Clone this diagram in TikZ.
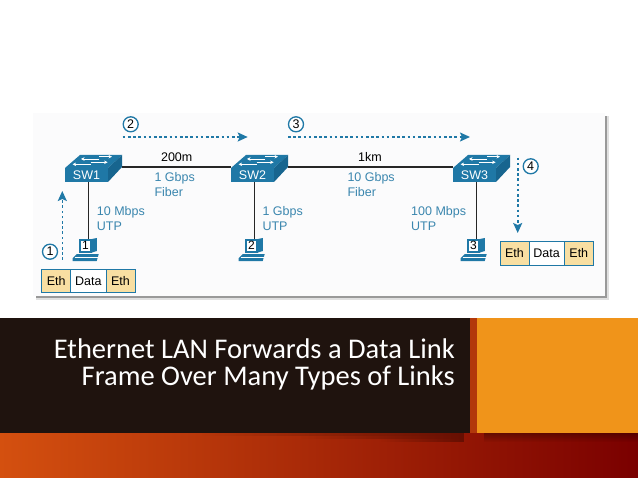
\documentclass[tikz,border=0pt]{standalone}
\usepackage{fontspec}
\setmainfont{Liberation Sans}
\newfontfamily\titlefont{Carlito}
\usetikzlibrary{positioning,arrows.meta,fadings}

\definecolor{netblue}{HTML}{1F78A6}
\definecolor{netdark}{HTML}{17658F}
\definecolor{labelblue}{HTML}{3A86AE}
\definecolor{ethtan}{HTML}{F8DFA2}
\definecolor{paneltint}{HTML}{FBFBFC}
\definecolor{titledark}{HTML}{1F130E}
\definecolor{titleorange}{HTML}{F0941A}
\definecolor{titlered}{HTML}{B2380B}
\definecolor{bandleft}{HTML}{D4500F}
\definecolor{bandmid}{HTML}{B5300A}
\definecolor{bandright}{HTML}{7A0000}

\tikzset{
	switchbox/.style={fill=netblue,text=white,minimum width=43pt,minimum height=14pt,inner sep=0pt,outer sep=0pt,font=\fontsize{12.5}{14}\selectfont},
	pcbox/.style={fill=white,draw=netblue,line width=1.6pt,minimum width=11pt,minimum height=12pt,inner sep=0pt,font=\fontsize{12}{12}\selectfont},
	ethcell/.style={draw=netblue,line width=1pt,fill=ethtan,minimum width=29pt,minimum height=23.5pt,inner sep=0pt,outer sep=0pt,font=\fontsize{12.5}{14}\selectfont},
	datacell/.style={ethcell,fill=white,minimum width=35.3pt},
	link/.style={line width=1.4pt,black!85},
	move/.style={netblue,line width=1.6pt,dash pattern=on 2.6pt off 2.6pt,-{Stealth[length=10pt,width=9pt,inset=2pt]}},
	stepmark/.style={circle,draw=netblue,line width=1.3pt,fill=white,minimum size=15pt,inner sep=0pt,font=\fontsize{12.5}{14}\selectfont},
	speed/.style={anchor=west,align=left,inner sep=0pt,text=labelblue,font=\fontsize{12.5}{15}\selectfont},
	dist/.style={inner sep=0pt,font=\fontsize{12.5}{14}\selectfont},
	swarrow/.style={white,line width=.7pt,-{Stealth[length=3.5pt,width=3.5pt]}},
	softedge/.style={black,opacity=.3},
}

% top and side of a switch, on its front node
\newcommand{\switchparts}[1]{
	\fill[netblue] (#1.north west) -- ++(15,-13) -- ++(42,0) -- ++(-14,13) -- cycle;
	\fill[netdark] (#1.north east) -- ++(14,-13) -- ++(0,12) -- (#1.south east) -- cycle;
	\draw[swarrow] ([shift={(34,-9)}]#1.north west) -- ++(-18,0);
	\draw[swarrow] ([shift={(34,-11.3)}]#1.north west) -- ++(13,0);
	\draw[swarrow] ([shift={(25.6,-3.7)}]#1.north west) -- ++(-18,0);
	\draw[swarrow] ([shift={(25.6,-5.7)}]#1.north west) -- ++(17,0);
	\coordinate (#1r) at ([shift={(14,-1)}]#1.north east);
	\coordinate (#1l) at ([shift={(0,-1)}]#1.north west);
}
% monitor side and keyboard, on the screen node
\newcommand{\pcparts}[1]{
	\fill[netblue] (#1.north east) -- ++(5,-1) -- ++(0,13) -- (#1.south east) -- cycle;
	\fill[netblue] ([shift={(-2.5,1.5)}]#1.south west) -- ++(22,0) -- ++(-2,7) -- ++(-24,0) -- ++(0,-3) -- cycle;
	\draw[white,line width=.6pt] ([shift={(-4.5,5)}]#1.south west) -- ++(23,0);
}

\begin{document}
\begin{tikzpicture}[x=1pt,y=-1pt]
	\useasboundingbox (0,0) rectangle (638,478);
	\fill[white] (0,0) rectangle (638,478);

	% panel
	\fill[black!12] (36,116) rectangle (609,300);
	\fill[black!40] (36,116) rectangle (607,298);
	\fill[paneltint] (33,113) rectangle (605,296);

	% title area
	\shade[left color=bandleft,middle color=bandmid,right color=bandright] (0,433) rectangle (638,478);
	\fill[softedge,path fading=west] (200,433) rectangle (464,436);
	\fill[softedge,path fading=west] (300,436) rectangle (464,439);
	\fill[softedge,path fading=west] (380,439) rectangle (464,442);
	\fill[softedge,path fading=south] (484,433) rectangle (638,442);
	\fill[titlered] (470,318) rectangle (477,433);
	\fill[titleorange] (477,318) rectangle (638,433);
	\node[fill=titledark,minimum width=470pt,minimum height=115pt,inner sep=0pt,anchor=north west] (titlebox) at (0,318) {};
	\node[anchor=north east,inner sep=0pt,align=right,text=white,font=\titlefont\fontsize{28.5}{27}\selectfont] (title) at (455,339) {Ethernet LAN Forwards a Data Link\\Frame Over Many Types of Links};

	% switches
	\node[switchbox] (sw1) at (86.5,175) {SW1};
	\node[switchbox,right=123pt of sw1] (sw2) {SW2};
	\node[switchbox,right=179pt of sw2] (sw3) {SW3};
	\switchparts{sw1}
	\switchparts{sw2}
	\switchparts{sw3}

	% hosts
	\node[pcbox,below=57pt of sw1,xshift=-1pt] (pc1) {1};
	\node[pcbox,below=57pt of sw2,xshift=-1pt] (pc2) {2};
	\node[pcbox,below=57pt of sw3,xshift=-1pt] (pc3) {3};
	\pcparts{pc1}
	\pcparts{pc2}
	\pcparts{pc3}

	% links
	\draw[link] (sw1r) -- (sw2l);
	\draw[link] (sw2r) -- (sw3l);
	\draw[link] ([xshift=2pt]sw1.south) -- ([xshift=3pt]pc1.north);
	\draw[link] ([xshift=2pt]sw2.south) -- ([xshift=3pt]pc2.north);
	\draw[link] ([xshift=2pt]sw3.south) -- ([xshift=3pt]pc3.north);

	% labels
	\node[dist] (d1) at (176.7,156.7) {200m};
	\node[dist] (d2) at (370,156.7) {1km};
	\node[speed] (s1) at (154.3,184.5) {1 Gbps\\Fiber};
	\node[speed] (s2) at (347.3,184.5) {10 Gbps\\Fiber};
	\node[speed] (s3) at (96.7,218.5) {10 Mbps\\UTP};
	\node[speed] (s4) at (262.3,218.5) {1 Gbps\\UTP};
	\node[speed] (s5) at (411,218.5) {100 Mbps\\UTP};

	% frames
	\node[ethcell,anchor=north west] (fa1) at (41.7,269.2) {Eth};
	\node[datacell,right=0pt of fa1] (fa2) {Data};
	\node[ethcell,right=0pt of fa2] (fa3) {Eth};
	\node[ethcell,anchor=north west] (fb1) at (500,241.7) {Eth};
	\node[datacell,right=0pt of fb1] (fb2) {Data};
	\node[ethcell,right=0pt of fb2] (fb3) {Eth};

	% frame moves
	\coordinate (m1a) at (62.3,260);
	\coordinate (m1b) at (62.3,191);
	\coordinate (m2a) at (122.7,137);
	\coordinate (m2b) at (247.7,137);
	\coordinate (m3a) at (288,137);
	\coordinate (m3b) at (470,137);
	\coordinate (m4a) at (517.7,157.7);
	\coordinate (m4b) at (517.7,233);
	\draw[move] (m1a) -- (m1b);
	\draw[move] (m2a) -- (m2b);
	\draw[move] (m3a) -- (m3b);
	\draw[move] (m4a) -- (m4b);
	\node[stepmark] (n1) at (50,251.7) {1};
	\node[stepmark] (n2) at (130.7,124.3) {2};
	\node[stepmark] (n3) at (296,124.3) {3};
	\node[stepmark] (n4) at (530.7,166.3) {4};
\end{tikzpicture}
\end{document}
